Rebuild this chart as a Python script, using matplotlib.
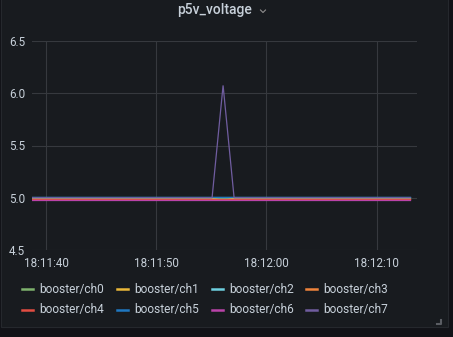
import matplotlib
matplotlib.use("Agg")
import matplotlib.pyplot as plt
import matplotlib.dates as mdates
from matplotlib.patches import Rectangle
from matplotlib.lines import Line2D
import pandas as pd

plt.rcParams["font.family"] = ["Roboto", "DejaVu Sans"]

# one sample per second
times = pd.date_range("2021-01-01 18:11:38.06", periods=36, freq="1s")

labels = ["booster/ch0", "booster/ch1", "booster/ch2", "booster/ch3",
          "booster/ch4", "booster/ch5", "booster/ch6", "booster/ch7"]
colors = ["#7EB26D", "#EAB839", "#6ED0E0", "#EF843C",
          "#E24D42", "#1F78C1", "#BA43A9", "#705DA0"]

ch0 = [5.000, 5.000, 5.000, 5.000, 5.000, 5.000, 5.000, 5.000, 5.000,
       5.000, 5.000, 5.000, 5.000, 5.000, 5.000, 5.000, 5.000, 5.000,
       5.000, 5.000, 5.000, 5.000, 5.000, 5.000, 5.000, 5.000, 5.000,
       5.000, 5.000, 5.000, 5.000, 5.000, 5.000, 5.000, 5.000, 5.000]
ch1 = [4.995, 4.995, 4.995, 4.995, 4.995, 4.995, 4.995, 4.995, 4.995,
       4.995, 4.995, 4.995, 4.995, 4.995, 4.995, 4.995, 4.995, 4.995,
       4.975, 4.995, 4.995, 4.995, 4.995, 4.995, 4.995, 4.995, 4.995,
       4.995, 4.995, 4.995, 4.995, 4.995, 4.995, 4.995, 4.995, 4.995]
ch2 = [5.005, 5.005, 5.005, 5.005, 5.005, 5.005, 5.005, 5.005, 5.005,
       5.005, 5.005, 5.005, 5.005, 5.005, 5.005, 5.005, 5.005, 5.005,
       5.005, 5.005, 5.005, 5.005, 5.005, 5.005, 5.005, 5.005, 5.005,
       5.005, 5.005, 5.005, 5.005, 5.005, 5.005, 5.005, 5.005, 5.005]
ch3 = [4.992, 4.992, 4.992, 4.992, 4.992, 4.992, 4.992, 4.992, 4.992,
       4.992, 4.992, 4.992, 4.992, 4.992, 4.992, 4.992, 4.992, 4.992,
       4.992, 4.992, 4.992, 4.992, 4.992, 4.992, 4.992, 4.992, 4.992,
       4.992, 4.992, 4.992, 4.992, 4.992, 4.992, 4.992, 4.992, 4.992]
ch4 = [4.988, 4.988, 4.988, 4.988, 4.988, 4.988, 4.988, 4.988, 4.988,
       4.988, 4.988, 4.988, 4.988, 4.988, 4.988, 4.988, 4.988, 4.988,
       4.988, 4.988, 4.988, 4.988, 4.988, 4.988, 4.988, 4.988, 4.988,
       4.988, 4.988, 4.988, 4.988, 4.988, 4.988, 4.988, 4.988, 4.988]
ch5 = [5.008, 5.008, 5.008, 5.008, 5.008, 5.008, 5.008, 5.008, 5.008,
       5.008, 5.008, 5.008, 5.008, 5.008, 5.008, 5.008, 5.008, 5.008,
       5.008, 5.008, 5.008, 5.008, 5.008, 5.008, 5.008, 5.008, 5.008,
       5.008, 5.008, 5.008, 5.008, 5.008, 5.008, 5.008, 5.008, 5.008]
ch6 = [4.983, 4.983, 4.983, 4.983, 4.983, 4.983, 4.983, 4.983, 4.983,
       4.983, 4.983, 4.983, 4.983, 4.983, 4.983, 4.983, 4.983, 4.983,
       4.983, 4.983, 4.983, 4.983, 4.983, 4.983, 4.983, 4.983, 4.983,
       4.983, 4.983, 4.983, 4.983, 4.983, 4.983, 4.983, 4.983, 4.983]
ch7 = [5.000, 5.000, 5.000, 5.000, 5.000, 5.000, 5.000, 5.000, 5.000,
       5.000, 5.000, 5.000, 5.000, 5.000, 5.000, 5.000, 5.000, 5.000,
       6.075, 5.000, 5.000, 5.000, 5.000, 5.000, 5.000, 5.000, 5.000,
       5.000, 5.000, 5.000, 5.000, 5.000, 5.000, 5.000, 5.000, 5.000]
series = [ch0, ch1, ch2, ch3, ch4, ch5, ch6, ch7]

y_ticks = [4.5, 5.0, 5.5, 6.0, 6.5]

W, H = 453, 337
text_color = "#c7d0d9"
grid_color = "#36393e"

fig = plt.figure(figsize=(W / 100, H / 100), dpi=100, facecolor="#111217")

# panel background
fig.patches.append(Rectangle((1 / W, 10 / H), 447 / W, 1.0,
                             transform=fig.transFigure,
                             facecolor="#181b1f", edgecolor="#25282d",
                             linewidth=0.8, zorder=-5))

ax = fig.add_axes([32 / W, (H - 250) / H, (416.7 - 32) / W, (250 - 41) / H])
ax.set_zorder(2)
ax.set_facecolor("#181b1f")
for s in ax.spines.values():
    s.set_visible(False)

for vals, c in zip(series, colors):
    ax.plot(times, vals, color=c, linewidth=0.9, solid_joinstyle="miter")

ax.set_xlim(pd.Timestamp("2021-01-01 18:11:38.70"),
            pd.Timestamp("2021-01-01 18:12:13.65"))
ax.set_ylim(4.5, 6.5)
ax.set_yticks(y_ticks)
ax.set_yticklabels([f"{v:.1f}" for v in y_ticks])
ax.xaxis.set_major_locator(mdates.SecondLocator(bysecond=[0, 10, 20, 30, 40, 50]))
ax.xaxis.set_major_formatter(mdates.DateFormatter("%H:%M:%S"))
ax.tick_params(length=0, labelsize=8.4, colors=text_color)
ax.tick_params(axis="y", pad=5)
ax.tick_params(axis="x", pad=5)
ax.grid(True, color=grid_color, linewidth=0.8)
ax.set_axisbelow(True)

# title
fig.text(215 / W, 1 - 10 / H, "p5v_voltage", ha="center", va="center",
         fontsize=10, fontweight="medium", color=text_color)
fig.lines.append(Line2D([260.5 / W, 263 / W, 265.5 / W],
                        [1 - 10 / H, 1 - 12.5 / H, 1 - 10 / H],
                        transform=fig.transFigure, color="#8e8e8e",
                        linewidth=0.8))

# legend
col_x = [22, 117, 212, 306]
row_y = [289, 310]
for i, (lab, c) in enumerate(zip(labels, colors)):
    x0 = col_x[i % 4]
    y0 = row_y[i // 4]
    fig.lines.append(Line2D([x0 / W, (x0 + 10.5) / W],
                            [1 - y0 / H, 1 - y0 / H],
                            transform=fig.transFigure, color=c,
                            linewidth=1.8))
    fig.text((x0 + 17) / W, 1 - y0 / H, lab, ha="left", va="center",
             fontsize=8.6, color=text_color)

# resize handle
fig.lines.append(Line2D([441 / W, 441 / W, 437 / W],
                        [1 - 320 / H, 1 - 324 / H, 1 - 324 / H],
                        transform=fig.transFigure, color="#5a5d63",
                        linewidth=1.5))

fig.savefig("out.png", dpi=100, facecolor=fig.get_facecolor())
